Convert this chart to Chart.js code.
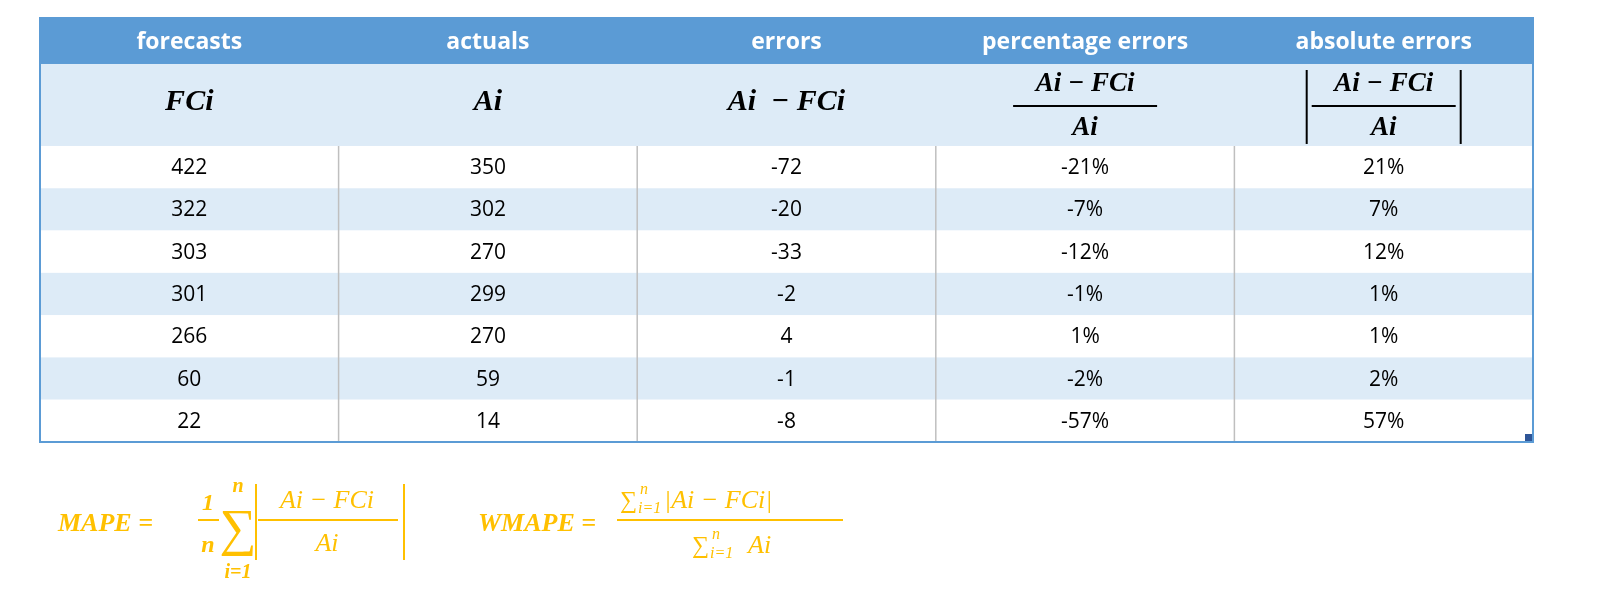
<!DOCTYPE html>
<html><head><meta charset="utf-8">
<script src="https://cdn.jsdelivr.net/npm/chart.js"></script>
<style>html,body{margin:0;padding:0;background:#fff;overflow:hidden}#wrap{width:1600px;height:602px}canvas{display:block}</style>
</head><body><div id="wrap"><canvas id="c" width="1600" height="602"></canvas></div>
<script>
const headers = ["forecasts","actuals","errors","percentage errors","absolute errors"];
const forecasts = [422,322,303,301,266,60,22];
const actuals = [350,302,270,299,270,59,14];
const errors = [-72,-20,-33,-2,4,-1,-8];
const pctErrors = ["-21%","-7%","-12%","-1%","1%","-2%","-57%"];
const absErrors = ["21%","7%","12%","1%","1%","2%","57%"];
const columns = [forecasts, actuals, errors, pctErrors, absErrors];

const H1 = 46, H2 = 82, RH = 42.3;
const totalH = H1 + H2 + RH * forecasts.length;
const BLUE = "#5b9bd5", LIGHT = "#ddebf7", GRID = "#bfbfbf", ORANGE = "#ffc000";
const MATH = "'Liberation Serif', serif";

function mf(size){ return "italic bold " + size + "px " + MATH; }

const tablePlugin = {
  id: "table",
  afterDraw(chart) {
    const ctx = chart.ctx, xs = chart.scales.x, ys = chart.scales.y;
    const X = v => xs.getPixelForValue(v), Y = v => ys.getPixelForValue(v);
    const L = X(0), R = X(5);
    ctx.save();
    ctx.fillStyle = BLUE; ctx.fillRect(L, Y(0), R - L, Y(H1) - Y(0));
    ctx.fillStyle = LIGHT; ctx.fillRect(L, Y(H1), R - L, Y(H1 + H2) - Y(H1));
    for (let r = 0; r < forecasts.length; r++) {
      const y0 = Y(H1 + H2 + r * RH), y1 = Y(H1 + H2 + (r + 1) * RH);
      ctx.fillStyle = r % 2 ? LIGHT : "#ffffff";
      ctx.fillRect(L, y0, R - L, y1 - y0);
    }
    ctx.strokeStyle = GRID; ctx.lineWidth = 1.5;
    for (let c = 1; c < 5; c++) {
      ctx.beginPath(); ctx.moveTo(X(c), Y(H1 + H2)); ctx.lineTo(X(c), Y(totalH)); ctx.stroke();
    }
    ctx.strokeStyle = BLUE; ctx.lineWidth = 2;
    ctx.strokeRect(L, Y(0), R - L, Y(totalH) - Y(0));
    ctx.fillStyle = "#2f5597"; ctx.fillRect(R - 8, Y(totalH) - 8, 7, 7);
    ctx.textAlign = "center"; ctx.textBaseline = "middle";
    ctx.fillStyle = "#fff"; ctx.font = "bold 23px 'Open Sans', sans-serif";
    headers.forEach((h, c) => ctx.fillText(h, X(c + 0.5), Y(H1 / 2) + 1));
    ctx.fillStyle = "#000";
    const sy = Y(H1 + 38);
    ctx.font = mf(30);
    ctx.fillText("FCi", X(0.5), sy);
    ctx.fillText("Ai", X(1.5), sy);
    ctx.fillText("Ai  − FCi", X(2.5), sy);
    ctx.font = mf(27);
    for (const c of [3, 4]) {
      const cx = X(c + 0.5);
      ctx.fillText("Ai − FCi", cx, Y(H1 + 20));
      ctx.fillText("Ai", cx, Y(H1 + 64));
      ctx.lineWidth = 2; ctx.strokeStyle = "#000";
      ctx.beginPath(); ctx.moveTo(cx - 72, Y(H1 + 42)); ctx.lineTo(cx + 72, Y(H1 + 42)); ctx.stroke();
      if (c === 4) {
        for (const s of [-1, 1]) {
          ctx.beginPath(); ctx.moveTo(cx + s * 77, Y(H1 + 6)); ctx.lineTo(cx + s * 77, Y(H1 + 80)); ctx.stroke();
        }
      }
    }
    ctx.font = "21px 'Open Sans', sans-serif";
    columns.forEach((col, c) => col.forEach((v, r) => {
      ctx.fillText(String(v), X(c + 0.5), Y(H1 + H2 + (r + 0.5) * RH) + 1);
    }));
    drawFormulas(ctx);
    ctx.restore();
  }
};

function drawFormulas(ctx) {
  ctx.fillStyle = ORANGE; ctx.strokeStyle = ORANGE; ctx.lineWidth = 2;
  ctx.textBaseline = "alphabetic"; ctx.textAlign = "left";
  ctx.font = mf(26); ctx.fillText("MAPE =", 58, 531);
  ctx.textAlign = "center";
  ctx.font = mf(24); ctx.fillText("1", 208, 510); ctx.fillText("n", 208, 552);
  ctx.beginPath(); ctx.moveTo(198, 520); ctx.lineTo(219, 520); ctx.stroke();
  ctx.font = "italic 52px " + MATH; ctx.fillText("∑", 238, 545);
  ctx.font = mf(20); ctx.fillText("n", 238, 492); ctx.fillText("i=1", 238, 578);
  ctx.font = "italic 26px " + MATH;
  ctx.fillText("Ai − FCi", 327, 508); ctx.fillText("Ai", 327, 551);
  ctx.beginPath(); ctx.moveTo(258, 520); ctx.lineTo(398, 520); ctx.stroke();
  ctx.beginPath(); ctx.moveTo(256, 484); ctx.lineTo(256, 560); ctx.stroke();
  ctx.beginPath(); ctx.moveTo(404, 484); ctx.lineTo(404, 560); ctx.stroke();
  ctx.textAlign = "left";
  ctx.font = mf(26); ctx.fillText("WMAPE =", 478, 531);
  ctx.font = "italic 24px " + MATH; ctx.fillText("∑", 620, 508);
  ctx.font = "italic 16px " + MATH; ctx.fillText("n", 640, 494); ctx.fillText("i=1", 638, 513);
  ctx.font = "italic 26px " + MATH; ctx.fillText("|Ai − FCi|", 664, 508);
  ctx.beginPath(); ctx.moveTo(617, 520); ctx.lineTo(843, 520); ctx.stroke();
  ctx.font = "italic 24px " + MATH; ctx.fillText("∑", 692, 553);
  ctx.font = "italic 16px " + MATH; ctx.fillText("n", 712, 539); ctx.fillText("i=1", 710, 558);
  ctx.font = "italic 26px " + MATH; ctx.fillText("Ai", 748, 553);
}

new Chart(document.getElementById("c"), {
  type: "scatter",
  data: { datasets: [{ data: [], showLine: false }] },
  options: {
    responsive: false, animation: false, events: [],
    layout: { padding: { left: 40, right: 67, top: 18, bottom: 160 } },
    plugins: { legend: { display: false }, tooltip: { enabled: false } },
    scales: {
      x: { type: "linear", min: 0, max: 5, display: false },
      y: { type: "linear", min: 0, max: totalH, reverse: true, display: false }
    }
  },
  plugins: [tablePlugin]
});
</script></body></html>
